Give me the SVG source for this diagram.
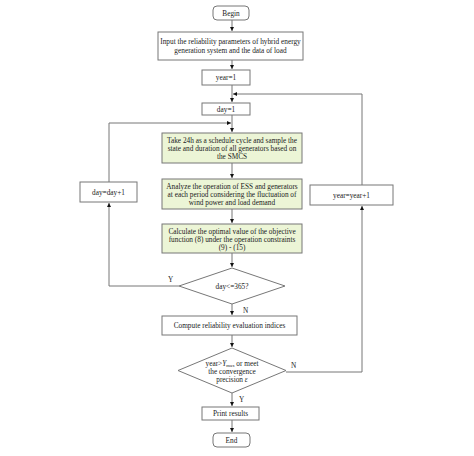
<svg xmlns="http://www.w3.org/2000/svg" width="474" height="456" viewBox="0 0 474 456">
<defs>
<marker id="ah" viewBox="0 0 6 6" refX="6" refY="3" markerWidth="4" markerHeight="4" orient="auto" markerUnits="userSpaceOnUse">
<path d="M0,0 L6,3 L0,6 z" fill="#111"/>
</marker>
</defs>
<style>
.box{fill:#fff;stroke:#777;stroke-width:1}
.g{fill:#ecf5d6;stroke:#777;stroke-width:1}
.t{font-family:"Liberation Serif","Times New Roman",serif;font-size:7.3px;fill:#222;text-anchor:middle}
.l{font-family:"Liberation Serif","Times New Roman",serif;font-size:7.3px;fill:#222}
.c{fill:none;stroke:#777;stroke-width:1}
</style>
<rect width="474" height="456" fill="#fff"/>
<g id="connectors">
<path class="c" d="M232,20 V31" marker-end="url(#ah)"/>
<path class="c" d="M232,60 V69" marker-end="url(#ah)"/>
<path class="c" d="M232,85 V102" marker-end="url(#ah)"/>
<path class="c" d="M232,115 V132" marker-end="url(#ah)"/>
<path class="c" d="M232,163 V178" marker-end="url(#ah)"/>
<path class="c" d="M232,209 V223" marker-end="url(#ah)"/>
<path class="c" d="M232,253 V267" marker-end="url(#ah)"/>
<path class="c" d="M232,304 V315" marker-end="url(#ah)"/>
<path class="c" d="M232,335 V347" marker-end="url(#ah)"/>
<path class="c" d="M232,393 V406" marker-end="url(#ah)"/>
<path class="c" d="M232,420 V432" marker-end="url(#ah)"/>
<path class="c" d="M179,286 H109 V203" marker-end="url(#ah)"/>
<path class="c" d="M109,182 V123 H231" marker-end="url(#ah)"/>
<path class="c" d="M286,372 H362 V206" marker-end="url(#ah)"/>
<path class="c" d="M362,185 V94 H233" marker-end="url(#ah)"/>
<text class="l" x="168" y="282">Y</text>
<text class="l" x="243" y="313">N</text>
<text class="l" x="291" y="368">N</text>
<text class="l" x="239" y="402">Y</text>
</g>
<g id="begin">
<rect class="box" x="213" y="6" width="36" height="14" rx="4"/>
<text class="t" x="231" y="15.5">Begin</text>
</g>
<g id="input">
<rect class="box" x="158" y="32" width="145" height="28"/>
<text class="t" x="230.5" y="44">Input the reliability parameters of hybrid energy</text>
<text class="t" x="230.5" y="53">generation system and the data of load</text>
</g>
<g id="year1">
<rect class="box" x="202" y="70" width="48" height="15"/>
<text class="t" x="226" y="80">year=1</text>
</g>
<g id="day1">
<rect class="box" x="202" y="103" width="48" height="12"/>
<text class="t" x="226" y="111.5">day=1</text>
</g>
<g id="sample">
<rect class="g" x="162" y="133" width="140" height="30"/>
<text class="t" x="232" y="142.5">Take 24h as a schedule cycle and sample the</text>
<text class="t" x="232" y="150.5">state and duration of all generators based on</text>
<text class="t" x="232" y="158.5">the SMCS</text>
</g>
<g id="analyze">
<rect class="g" x="162" y="179" width="140" height="30"/>
<text class="t" x="232" y="188.5">Analyze the operation of ESS and generators</text>
<text class="t" x="232" y="196.5">at each period considering the fluctuation of</text>
<text class="t" x="232" y="204.5">wind power and load demand</text>
</g>
<g id="calculate">
<rect class="g" x="162" y="224" width="140" height="29"/>
<text class="t" x="232" y="233.5">Calculate the optimal value of the objective</text>
<text class="t" x="232" y="241.5">function (8) under the operation constraints</text>
<text class="t" x="232" y="249.5">(9) - (15)</text>
</g>
<g id="dayplus">
<rect class="box" x="80" y="182" width="57" height="20"/>
<text class="t" x="108.5" y="194.5">day=day+1</text>
</g>
<g id="yearplus">
<rect class="box" x="310" y="185" width="83" height="20"/>
<text class="t" x="351.5" y="197.5">year=year+1</text>
</g>
<g id="daycheck">
<path class="box" d="M232,268 L285,286 L232,304 L179,286 Z"/>
<text class="t" x="232" y="288.5">day&lt;=365?</text>
</g>
<g id="compute">
<rect class="box" x="162" y="316" width="135" height="19"/>
<text class="t" x="229.5" y="328">Compute  reliability  evaluation  indices</text>
</g>
<g id="yearcheck">
<path class="box" d="M232,348 L286,370.5 L232,393 L178,370.5 Z"/>
<text class="t" x="232" y="365.5">year&gt;<tspan font-style="italic">Y</tspan><tspan font-size="4.8" dy="1.5">max</tspan><tspan dy="-1.5"> or meet</tspan></text>
<text class="t" x="232" y="373.5">the convergence</text>
<text class="t" x="232" y="381.5">precision <tspan font-style="italic">ε</tspan></text>
</g>
<g id="print">
<rect class="box" x="202" y="407" width="57" height="13"/>
<text class="t" x="230.5" y="416">Print results</text>
</g>
<g id="end">
<rect class="box" x="213" y="433" width="37" height="14" rx="4"/>
<text class="t" x="231.5" y="442.5">End</text>
</g>
</svg>
